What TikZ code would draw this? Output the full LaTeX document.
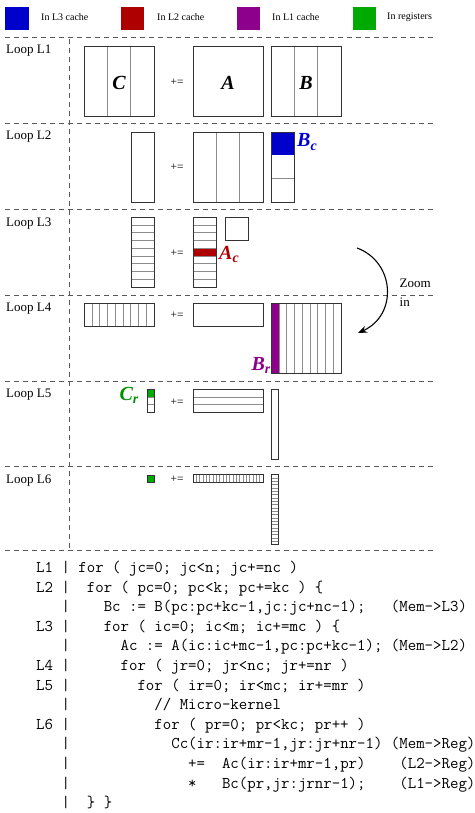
\documentclass[tikz,border=0pt]{standalone}
\usepackage{fontspec}
\setmainfont{Liberation Serif}
\usetikzlibrary{arrows.meta}
\definecolor{inlthree}{RGB}{0,0,205}
\definecolor{inltwo}{RGB}{175,0,0}
\definecolor{inlone}{RGB}{140,0,140}
\definecolor{inregs}{RGB}{0,170,0}
\newcommand{\nolab}{\hphantom{L0}}
\begin{document}
\begin{tikzpicture}[x=1pt,y=-1pt,
  boxline/.style={draw=black!80,line width=0.8pt},
  split/.style={draw=black!45,line width=0.5pt},
  divider/.style={draw=black!65,line width=0.8pt,dash pattern=on 5pt off 4pt},
  keytext/.style={anchor=west,inner sep=0pt,font=\fontsize{10}{12}\selectfont},
  looptext/.style={anchor=base west,inner sep=0pt,font=\fontsize{13}{15}\selectfont},
  opsign/.style={inner sep=0pt,font=\fontsize{11.5}{13}\selectfont},
  matname/.style={inner sep=0pt,font=\fontsize{20}{24}\selectfont\bfseries\itshape}]
  \useasboundingbox (0,0) rectangle (474,813);
  % legend
  \fill[inlthree] (5,7) rectangle (29,30);
  \node[keytext] (keyLthree) at (41,17) {In L3 cache};
  \fill[inltwo] (121,7) rectangle (144,30);
  \node[keytext] (keyLtwo) at (157,17) {In L2 cache};
  \fill[inlone] (237,7) rectangle (260,30);
  \node[keytext] (keyLone) at (272,17) {In L1 cache};
  \fill[inregs] (353,7) rectangle (376,30);
  \node[keytext] (keyregs) at (387,17) {In registers};
  % dashed separators
  \foreach \y in {37,123.5,209,295,381,466,550}
    \draw[divider] (5,\y) -- (433,\y);
  \draw[divider] (69,39) -- (69,550);

  % Loop L1
  \node[looptext] (loopone) at (6,54) {Loop L1};
  \draw[split] (107.3,46) -- (107.3,116) (130.7,46) -- (130.7,116);
  \draw[boxline] (84,46) rectangle (154,116);
  \node[matname] (C) at (119,83) {C};
  \node[opsign] (eqone) at (177,82) {+=};
  \draw[boxline] (193,46) rectangle (263,116);
  \node[matname] (A) at (228,83) {A};
  \draw[split] (294.3,46) -- (294.3,116) (317.7,46) -- (317.7,116);
  \draw[boxline] (271,46) rectangle (341,116);
  \node[matname] (B) at (306,83) {B};

  % Loop L2
  \node[looptext] (looptwo) at (6,140) {Loop L2};
  \draw[boxline] (131,132) rectangle (154,202);
  \node[opsign] (eqtwo) at (177,167) {+=};
  \draw[split] (216.3,132) -- (216.3,202) (239.7,132) -- (239.7,202);
  \draw[boxline] (193,132) rectangle (263,202);
  \fill[inlthree] (271,132) rectangle (294.3,155.3);
  \draw[split] (271,178.7) -- (294.3,178.7);
  \draw[boxline] (271,132) rectangle (294.3,202);
  \node[matname,anchor=base west,text=inlthree] (Bc) at (297,147) {B\textsubscript{c}};

  % Loop L3
  \node[looptext] (loopthree) at (6,226) {Loop L3};
  \foreach \k in {1,...,8}
    \draw[split] (131,{217+70*\k/9}) -- (154,{217+70*\k/9});
  \draw[boxline] (131,217) rectangle (154,287);
  \node[opsign] (eqthree) at (177,253) {+=};
  \fill[inltwo] (193,{217+70*4/9}) rectangle (216.3,{217+70*5/9});
  \foreach \k in {1,...,8}
    \draw[split] (193,{217+70*\k/9}) -- (216.3,{217+70*\k/9});
  \draw[boxline] (193,217) rectangle (216.3,287);
  \node[matname,anchor=base west,text=inltwo] (Ac) at (219,259) {A\textsubscript{c}};
  \draw[boxline] (225,217) rectangle (248.3,240.3);

  % Loop L4
  \node[looptext] (loopfour) at (6,311) {Loop L4};
  \foreach \k in {1,...,8}
    \draw[split] ({84+70*\k/9},303.3) -- ({84+70*\k/9},326.7);
  \draw[boxline] (84,303.3) rectangle (154,326.7);
  \node[opsign] (eqfour) at (177,315) {+=};
  \draw[boxline] (193,303.3) rectangle (263,326.7);
  \fill[inlone] (271,303.3) rectangle (278.8,373.3);
  \foreach \k in {1,...,8}
    \draw[split] ({271+70*\k/9},303.3) -- ({271+70*\k/9},373.3);
  \draw[boxline] (271,303.3) rectangle (341,373.3);
  \node[matname,anchor=base east,text=inlone] (Br) at (271,370) {B\textsubscript{r}};
  % zoom in arrow
  \coordinate (zoomfrom) at (357,248);
  \coordinate (zoomto) at (358,333);
  \draw[line width=1.1pt,-{Stealth[length=9pt,width=7pt]}]
    (zoomfrom) .. controls (395,262) and (398,315) .. (zoomto);
  \node[anchor=west,align=left,inner sep=0pt,font=\fontsize{13}{19}\selectfont]
    (zoomtext) at (399.5,293) {Zoom\\in};

  % Loop L5
  \node[looptext] (loopfive) at (6,397) {Loop L5};
  \fill[inregs] (147,389) rectangle (154.8,396.8);
  \draw[split] (147,396.8) -- (154.8,396.8) (147,404.6) -- (154.8,404.6);
  \draw[boxline] (147,389) rectangle (154.8,412.3);
  \node[matname,anchor=base east,text=inregs!85!black] (Cr) at (139,400) {C\textsubscript{r}};
  \node[opsign] (eqfive) at (177,402) {+=};
  \draw[split] (193,396.8) -- (263,396.8) (193,404.6) -- (263,404.6);
  \draw[boxline] (193,389) rectangle (263,412.3);
  \draw[boxline] (271,389) rectangle (278.8,459);

  % Loop L6
  \node[looptext] (loopsix) at (6,483) {Loop L6};
  \filldraw[fill=inregs,draw=black!80,line width=0.8pt] (147,475) rectangle (154.8,482.8);
  \node[opsign] (eqsix) at (177,479) {+=};
  \foreach \k in {1,...,20}
    \draw[split] ({193+70*\k/21},474.5) -- ({193+70*\k/21},482.3);
  \draw[boxline] (193,474.5) rectangle (263,482.3);
  \foreach \k in {1,...,20}
    \draw[split] (271,{474.5+70*\k/21}) -- (278.8,{474.5+70*\k/21});
  \draw[boxline] (271,474.5) rectangle (278.8,544.5);

  % loop nest code
  \node[anchor=north west,align=left,inner sep=0pt,font=\fontsize{16.4}{19.6}\selectfont\ttfamily]
    (code) at (36,561) {%
    L1~|~for ( jc=0; jc<n; jc+=nc )\\
    L2~|~~for ( pc=0; pc<k; pc+=kc ) \{\\
    \nolab~|~~~~Bc := B(pc:pc+kc-1,jc:jc+nc-1);~~~(Mem->L3)\\
    L3~|~~~~for ( ic=0; ic<m; ic+=mc ) \{\\
    \nolab~|~~~~~~Ac := A(ic:ic+mc-1,pc:pc+kc-1);~(Mem->L2)\\
    L4~|~~~~~~for ( jr=0; jr<nc; jr+=nr )\\
    L5~|~~~~~~~~for ( ir=0; ir<mc; ir+=mr )\\
    \nolab~|~~~~~~~~~~// Micro-kernel\\
    L6~|~~~~~~~~~~for ( pr=0; pr<kc; pr++ )\\
    \nolab~|~~~~~~~~~~~~Cc(ir:ir+mr-1,jr:jr+nr-1)~(Mem->Reg)\\
    \nolab~|~~~~~~~~~~~~~~+=~~Ac(ir:ir+mr-1,pr)~~~~(L2->Reg)\\
    \nolab~|~~~~~~~~~~~~~~*~~~Bc(pr,jr:jrnr-1);~~~~(L1->Reg)\\
    \nolab~|~~\}~\}};
\end{tikzpicture}
\end{document}
